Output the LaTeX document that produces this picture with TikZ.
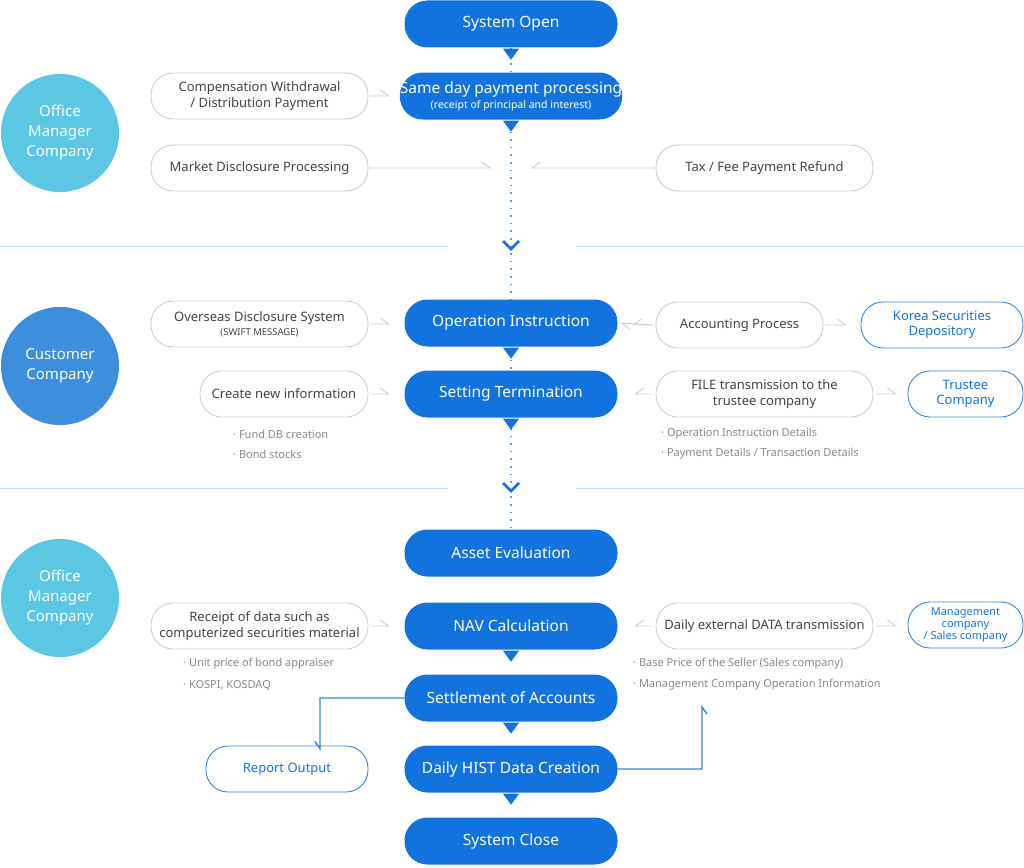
\documentclass[tikz,border=0pt]{standalone}
\usepackage{fontspec}
\setmainfont{Noto Sans}
\usetikzlibrary{shapes.geometric}
\definecolor{mblue}{HTML}{1273DE}
\definecolor{cyanc}{HTML}{5BC7E2}
\definecolor{bluec}{HTML}{3D8FDB}
\definecolor{pgray}{HTML}{CFCFCF}
\definecolor{tgray}{HTML}{444444}
\definecolor{ngray}{HTML}{888888}
\definecolor{sepc}{HTML}{C5DDEC}
\definecolor{olblue}{HTML}{3A86D6}
\tikzset{
 mainbox/.style={fill=mblue,rounded corners=23pt,minimum width=213pt,minimum height=47pt,text=white,font=\fontsize{15.5}{18}\selectfont\bfseries,align=center,inner sep=0pt},
 graybox/.style={draw=pgray,line width=0.9pt,rounded corners=22pt,minimum height=46pt,text=tgray,font=\fontsize{13}{16}\selectfont,align=center,inner sep=0pt},
 outbox/.style={draw=olblue,line width=0.9pt,rounded corners=22pt,minimum height=46pt,text=mblue,font=\fontsize{13}{15}\selectfont,align=center,inner sep=0pt},
 circ/.style={circle,minimum size=118pt,text=white,font=\fontsize{15}{20}\selectfont\bfseries,align=center,inner sep=0pt},
 note/.style={text=ngray,font=\fontsize{11}{13}\selectfont,anchor=west,inner sep=0pt},
 gline/.style={draw=pgray,line width=0.9pt},
 bline/.style={draw=olblue,line width=1.4pt},
}
\newcommand{\tip}[2]{\fill[mblue] ([yshift=-1pt]#1.south) ++(-8pt,0) -- ++(16pt,0) -- ++(-8pt,-11pt) -- cycle;}
\begin{document}
\begin{tikzpicture}[x=1pt,y=-1pt]
\useasboundingbox (0,0) rectangle (1024,867);
% separators
\draw[sepc,line width=0.8pt] (0,246) -- (448,246) (576,246) -- (1024,246);
\draw[sepc,line width=0.8pt] (0,488) -- (448,488) (576,488) -- (1024,488);
% dotted spine
\draw[mblue!70,line width=1.6pt,dash pattern=on 1.6pt off 6pt] (511,48) -- (511,530);
\draw[mblue,line width=2.6pt] (503,241) -- (511,249) -- (519,241);
\draw[mblue,line width=2.6pt] (503,483) -- (511,491) -- (519,483);
% circles
\node[circ,fill=cyanc] (c1) at (60,133) {Office\\Manager\\Company};
\node[circ,fill=bluec] (c2) at (60,366) {Customer\\Company};
\node[circ,fill=cyanc] (c3) at (60,598) {Office\\Manager\\Company};
% main boxes
\node[mainbox] (so) at (511,24) {System Open};
\node[mainbox] (sd) at (511,96) {Same day payment processing\\[-3pt]{\fontsize{10.5}{12}\selectfont\mdseries (receipt of principal and interest)}};
\node[mainbox] (oi) at (511,323) {Operation Instruction};
\node[mainbox] (st) at (511,394) {Setting Termination};
\node[mainbox] (ae) at (511,553) {Asset Evaluation};
\node[mainbox] (nav) at (511,626) {NAV Calculation};
\node[mainbox] (sa) at (511,698) {Settlement of Accounts};
\node[mainbox] (dh) at (511,769) {Daily HIST Data Creation};
\node[mainbox] (sc) at (511,841) {System Close};
\foreach \n in {so,sd,oi,st,nav,sa,dh}{\tip{\n}{}}
% gray boxes
\node[graybox,minimum width=217pt] (cw) at (259.5,96) {Compensation Withdrawal\\/ Distribution Payment};
\node[graybox,minimum width=217pt] (md) at (259.5,168) {Market Disclosure Processing};
\node[graybox,minimum width=217pt] (tf) at (764.5,168) {Tax / Fee Payment Refund};
\node[graybox,minimum width=217pt] (od) at (259.5,324) {Overseas Disclosure System\\[-2pt]{\fontsize{9.5}{11}\selectfont (SWIFT MESSAGE)}};
\node[graybox,minimum width=167pt] (ap) at (739.5,325) {Accounting Process};
\node[graybox,minimum width=168pt] (cn) at (284,394) {Create new information};
\node[graybox,minimum width=217pt] (ft) at (764.5,394) {FILE transmission to the\\trustee company};
\node[graybox,minimum width=217pt] (rd) at (259.5,626) {Receipt of data such as\\computerized securities material};
\node[graybox,minimum width=217pt] (de) at (764.5,626) {Daily external DATA transmission};
% outline boxes
\node[outbox,minimum width=162pt] (ksd) at (942,325) {Korea Securities\\Depository};
\node[outbox,minimum width=115pt] (tc) at (965.5,394) {Trustee\\Company};
\node[outbox,minimum width=115pt,font=\fontsize{11}{12}\selectfont] (mc) at (965.5,625) {Management\\company\\/ Sales company};
\node[outbox,minimum width=162pt] (ro) at (287,769) {Report Output};
% notes
\node[note] (n1) at (233,434) {· Fund DB creation};
\node[note] (n2) at (233,454) {· Bond stocks};
\node[note] (n3) at (661,434) {· Operation Instruction Details};
\node[note] (n4) at (661,454) {· Payment Details / Transaction Details};
\node[note] (n5) at (183,664) {· Unit price of bond appraiser};
\node[note] (n6) at (183,685) {· KOSPI, KOSDAQ};
\node[note] (n7) at (633,664) {· Base Price of the Seller (Sales company)};
\node[note] (n8) at (633,685) {· Management Company Operation Information};
% gray half-arrows
\coordinate (a1) at (490,168);
\coordinate (a2) at (532,168);
\draw[gline] ([xshift=2pt]cw.east) -- ++(18,0) -- ++(-8,-6);
\draw[gline] (md.east) -- (a1) -- ++(-8,-6);
\draw[gline] (tf.west) -- (a2) -- ++(8,-6);
\draw[gline] ([xshift=2pt]od.east) -- ++(18,0) -- ++(-8,-6);
\draw[gline] ([xshift=2pt]cn.east) -- ++(18,0) -- ++(-8,-6);
\draw[gline] ([xshift=-2pt]ap.west) -- ([xshift=4pt]oi.east) -- ++(8,6);
\draw[gline] ([xshift=-4pt]ap.west) ++(0,0) -- ++(-18,0) -- ++(8,-6);
\draw[gline] ([xshift=2pt]ap.east) -- ++(20,0) -- ++(-8,-6);
\draw[gline] ([xshift=-2pt]ft.west) -- ++(-18,0) -- ++(8,-6);
\draw[gline] ([xshift=2pt]ft.east) -- ++(20,0) -- ++(-8,-6);
\draw[gline] ([xshift=-2pt]de.west) -- ++(-18,0) -- ++(8,-6);
\draw[gline] ([xshift=2pt]de.east) -- ++(20,0) -- ++(-8,-6);
\draw[gline] ([xshift=2pt]rd.east) -- ++(18,0) -- ++(-8,-6);
% blue elbow connectors
\coordinate (e1) at (702,707);
\draw[bline] (sa.west) -- (320,698) -- ([yshift=-3pt]ro.north -| 320,0) -- ++(-5,-7);
\draw[bline] (dh.east) -- (702,769) -- (e1) -- ++(5,7);
\end{tikzpicture}
\end{document}
